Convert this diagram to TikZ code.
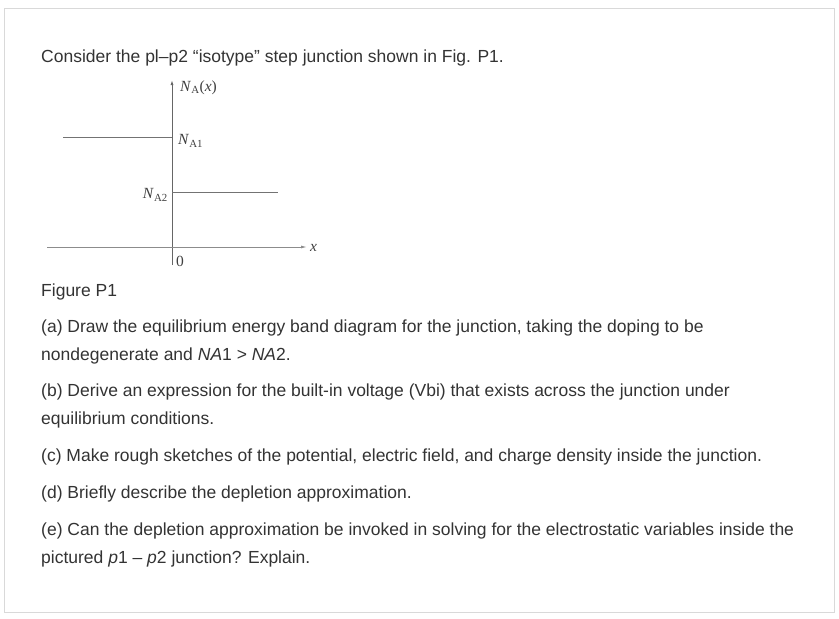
\documentclass[tikz,border=0pt]{standalone}
\usepackage{fontspec}
\usetikzlibrary{arrows.meta}
\setmainfont{Liberation Sans}
\newfontfamily\figfont{Liberation Serif}
\begin{document}
\begin{tikzpicture}[x=1pt,y=-1pt,
  txt/.style={anchor=base west,inner sep=0pt,text=black!80,font=\fontsize{17.5}{20}\selectfont},
  lab/.style={inner sep=0pt,text=black!75,font=\figfont\fontsize{15.5}{17}\selectfont},
  ax/.style={draw=black!60,line width=0.9pt},
  lv/.style={draw=black!55,line width=0.7pt}]
\useasboundingbox (0,0) rectangle (839,619);
\draw[draw=black!15] (4,8) rectangle (834,612);
\node[txt] (t0) at (41,62) {Consider the pl–p2 “isotype” step junction shown in Fig. P1.};
% figure
\coordinate (vb) at (172,265); \coordinate (vt) at (172,80);
\coordinate (xl) at (47,247); \coordinate (xr) at (307,247);
\draw[ax,-{Latex[length=5pt,width=3pt]}] (vb) -- (vt);
\draw[ax,draw=black!45,-{Latex[length=6pt,width=3pt]}] (xl) -- (xr);
\coordinate (a1) at (63,137); \coordinate (a1e) at (172,137);
\coordinate (a2) at (172,192); \coordinate (a2e) at (278,192);
\draw[lv] (a1) -- (a1e);
\draw[lv] (a2) -- (a2e);
\node[lab,anchor=west] (na) at (180,88) {\textit{N}\textsubscript{A}(\textit{x})};
\node[lab,anchor=west] (na1) at (178,141) {\textit{N}\textsubscript{A1}};
\node[lab,anchor=east] (na2) at (168,195) {\textit{N}\textsubscript{A2}};
\node[lab,anchor=west] (z) at (176,261) {0};
\node[lab,anchor=west] (xx) at (310,248) {\textit{x}};
% text
\node[txt] (t1) at (41,296) {Figure P1};
\node[txt] (t2) at (41,332) {(a) Draw the equilibrium energy band diagram for the junction, taking the doping to be};
\node[txt] (t3) at (41,360) {nondegenerate and \textit{NA}1 > \textit{NA}2.};
\node[txt] (t4) at (41,396) {(b) Derive an expression for the built-in voltage (Vbi) that exists across the junction under};
\node[txt] (t5) at (41,424) {equilibrium conditions.};
\node[txt] (t6) at (41,461) {(c) Make rough sketches of the potential, electric field, and charge density inside the junction.};
\node[txt] (t7) at (41,498) {(d) Briefly describe the depletion approximation.};
\node[txt] (t8) at (41,535) {(e) Can the depletion approximation be invoked in solving for the electrostatic variables inside the};
\node[txt] (t9) at (41,563) {pictured \textit{p}1 – \textit{p}2 junction? Explain.};
\end{tikzpicture}
\end{document}
